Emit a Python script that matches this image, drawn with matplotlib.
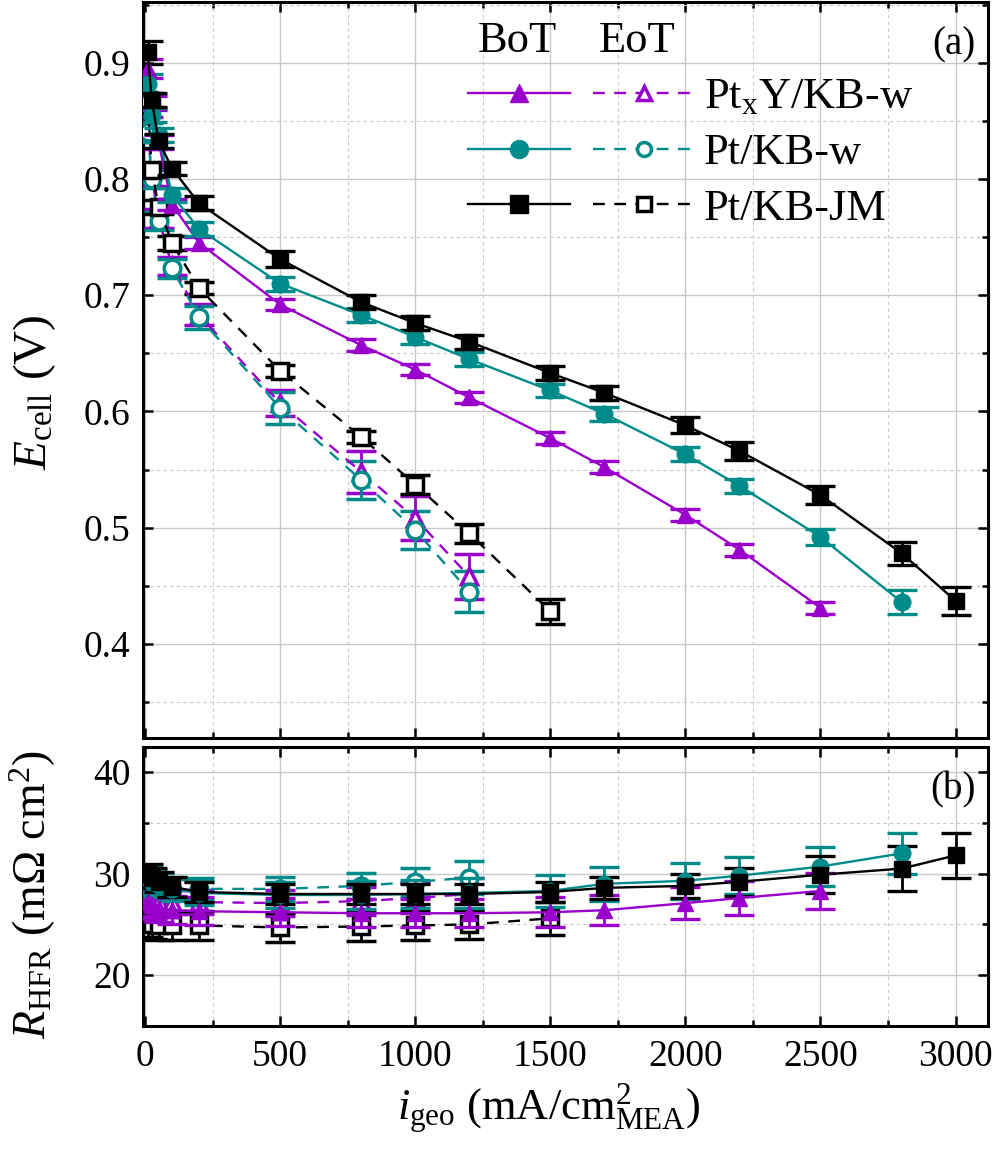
"""
Polarization curves and HFR, BoT vs EoT
"""

import matplotlib
matplotlib.use('Agg')
import matplotlib.pyplot as plt
from matplotlib.ticker import MultipleLocator
from matplotlib.legend_handler import HandlerTuple

plt.rcParams['font.family'] = ['Liberation Serif', 'DejaVu Serif']
plt.rcParams['mathtext.fontset'] = 'custom'
plt.rcParams['mathtext.rm'] = 'Liberation Serif'
plt.rcParams['mathtext.it'] = 'Liberation Serif:italic'

# ---------------------------------------------------------------- data
i_ptxy_bot = [10, 25, 50, 100, 200, 500, 800, 1000, 1200, 1500, 1700, 2000, 2200, 2500]
i_pt_bot = [10, 25, 50, 100, 200, 500, 800, 1000, 1200, 1500, 1700, 2000, 2200, 2500, 2800]
i_jm_bot = [10, 25, 50, 100, 200, 500, 800, 1000, 1200, 1500, 1700, 2000, 2200, 2500, 2800, 3000]
i_ptxy_eot = [10, 25, 50, 100, 200, 500, 800, 1000, 1200]
i_pt_eot = [10, 25, 50, 100, 200, 500, 800, 1000, 1200]
i_jm_eot = [10, 25, 50, 100, 200, 500, 800, 1000, 1200, 1500]

# cell voltage (V)
E_ptxy_bot = [0.895, 0.865, 0.832, 0.778, 0.745, 0.692, 0.657, 0.636, 0.612, 0.577, 0.552, 0.511, 0.481, 0.431]
E_ptxy_bot_err = [0.008, 0.006, 0.006, 0.005, 0.005, 0.005, 0.005, 0.005, 0.005, 0.005, 0.005, 0.005, 0.005, 0.005]
E_pt_bot = [0.882, 0.855, 0.838, 0.786, 0.757, 0.710, 0.683, 0.664, 0.645, 0.618, 0.598, 0.563, 0.536, 0.492, 0.436]
E_pt_bot_err = [0.008, 0.006, 0.006, 0.006, 0.006, 0.006, 0.006, 0.006, 0.006, 0.006, 0.006, 0.006, 0.006, 0.007, 0.010]
E_jm_bot = [0.909, 0.868, 0.833, 0.809, 0.779, 0.731, 0.694, 0.676, 0.660, 0.633, 0.616, 0.588, 0.566, 0.528, 0.478, 0.437]
E_jm_bot_err = [0.010, 0.006, 0.006, 0.006, 0.006, 0.007, 0.006, 0.006, 0.006, 0.006, 0.006, 0.007, 0.008, 0.008, 0.010, 0.012]

E_ptxy_eot = [0.845, 0.802, 0.766, 0.725, 0.683, 0.607, 0.548, 0.508, 0.458]
E_ptxy_eot_err = [0.008, 0.008, 0.008, 0.008, 0.009, 0.011, 0.018, 0.019, 0.019]
E_pt_eot = [0.840, 0.800, 0.764, 0.723, 0.681, 0.603, 0.541, 0.498, 0.445]
E_pt_eot_err = [0.008, 0.008, 0.008, 0.008, 0.010, 0.014, 0.016, 0.016, 0.018]
E_jm_eot = [0.868, 0.808, 0.776, 0.745, 0.706, 0.635, 0.578, 0.537, 0.495, 0.428]
E_jm_eot_err = [0.006, 0.006, 0.006, 0.006, 0.005, 0.005, 0.005, 0.008, 0.008, 0.011]

# HFR (mOhm cm2)
R_ptxy_bot = [27.2, 26.9, 26.6, 26.4, 26.3, 26.2, 26.1, 26.1, 26.1, 26.2, 26.4, 27.1, 27.6, 28.3]
R_ptxy_bot_err = [1.4, 1.4, 1.4, 1.4, 1.4, 1.4, 1.4, 1.4, 1.4, 1.5, 1.5, 1.6, 1.7, 1.8]
R_pt_bot = [29.6, 29.2, 28.9, 28.5, 28.1, 27.9, 27.9, 28.0, 28.1, 28.3, 29.0, 29.3, 29.8, 30.7, 32.0]
R_pt_bot_err = [1.2, 1.2, 1.2, 1.2, 1.2, 1.3, 1.4, 1.4, 1.5, 1.6, 1.7, 1.8, 1.8, 1.9, 2.0]
R_jm_bot = [30.0, 29.6, 29.2, 28.7, 28.2, 28.0, 28.0, 28.0, 28.0, 28.2, 28.6, 28.8, 29.2, 29.9, 30.5, 31.8]
R_jm_bot_err = [1.0, 1.0, 1.0, 1.0, 1.0, 1.0, 1.0, 1.0, 1.0, 1.0, 1.1, 1.2, 1.4, 1.8, 2.2, 2.2]

R_ptxy_eot = [27.5, 27.4, 27.3, 27.2, 27.2, 27.1, 27.3, 27.6, 28.0]
R_ptxy_eot_err = [1.2, 1.2, 1.2, 1.2, 1.2, 1.3, 1.4, 1.5, 1.6]
R_pt_eot = [28.9, 28.8, 28.6, 28.5, 28.5, 28.5, 28.8, 29.2, 29.6]
R_pt_eot_err = [1.0, 1.0, 1.0, 1.0, 1.1, 1.2, 1.3, 1.4, 1.6]
R_jm_eot = [25.2, 25.0, 24.9, 24.9, 24.9, 24.7, 24.8, 24.9, 25.0, 25.6]
R_jm_eot_err = [1.4, 1.4, 1.4, 1.4, 1.4, 1.4, 1.4, 1.4, 1.4, 1.6]

labels = ['Pt$_\\mathrm{x}$Y/KB-w', 'Pt/KB-w', 'Pt/KB-JM']
colors = ['#9900CC', '#008B8B', 'black']
markers = ['^', 'o', 's']

fig = plt.figure(figsize=(9.99, 11.56), dpi=100)
ax1 = fig.add_axes([0.143, 0.3616, 0.846, 0.6364])
ax2 = fig.add_axes([0.143, 0.1125, 0.846, 0.2415], sharex=ax1)

bot_sets = [
    (i_ptxy_bot, E_ptxy_bot, E_ptxy_bot_err, R_ptxy_bot, R_ptxy_bot_err),
    (i_pt_bot, E_pt_bot, E_pt_bot_err, R_pt_bot, R_pt_bot_err),
    (i_jm_bot, E_jm_bot, E_jm_bot_err, R_jm_bot, R_jm_bot_err),
]
eot_sets = [
    (i_ptxy_eot, E_ptxy_eot, E_ptxy_eot_err, R_ptxy_eot, R_ptxy_eot_err),
    (i_pt_eot, E_pt_eot, E_pt_eot_err, R_pt_eot, R_pt_eot_err),
    (i_jm_eot, E_jm_eot, E_jm_eot_err, R_jm_eot, R_jm_eot_err),
]

eb = dict(capsize=11, capthick=2.4, elinewidth=2.0, markersize=12)
handles = []
for k in range(3):
    c, m = colors[k], markers[k]
    ib, Eb, Ebe, Rb, Rbe = bot_sets[k]
    ie, Ee, Eee, Re, Ree = eot_sets[k]
    # EoT (open markers, dashed)
    for ax, y, ye in ((ax1, Ee, Eee), (ax2, Re, Ree)):
        ax.errorbar(ie, y, yerr=ye, color=c, marker=m, mfc='white', mec=c,
                    mew=2.5, ls=(0, (5, 4)), lw=1.7, zorder=3, **eb)
    # BoT (filled markers, solid)
    for ax, y, ye in ((ax1, Eb, Ebe), (ax2, Rb, Rbe)):
        ax.errorbar(ib, y, yerr=ye, color=c, marker=m, mfc=c, mec=c,
                    ls='-', lw=1.7, zorder=4, **eb)
    hb, = ax1.plot([], [], color=c, marker=m, mfc=c, mec=c, ls='-', lw=1.7,
                   markersize=13)
    he, = ax1.plot([], [], color=c, marker=m, mfc='white', mec=c, mew=2.5,
                   ls=(0, (5, 4)), lw=1.7, markersize=10)
    handles.append((hb, he))

# ---------------------------------------------------------------- axes style
for ax in (ax1, ax2):
    ax.set_xlim(-8, 3120)
    ax.xaxis.set_major_locator(MultipleLocator(500))
    ax.xaxis.set_minor_locator(MultipleLocator(250))
    ax.tick_params(which='both', direction='in', top=True, right=True,
                   width=1.8, labelsize=27)
    ax.tick_params(which='major', length=7)
    ax.tick_params(which='minor', length=4)
    ax.tick_params(axis='y', pad=9)
    ax.grid(True, which='major', color='#c8c8c8', lw=1.0)
    ax.grid(True, which='minor', color='#c8c8c8', lw=0.8, ls=(0, (3, 3)))
    ax.set_axisbelow(True)
    for s in ax.spines.values():
        s.set_linewidth(2.2)

ax1.set_ylim(0.319, 0.952)
ax1.yaxis.set_major_locator(MultipleLocator(0.1))
ax1.yaxis.set_minor_locator(MultipleLocator(0.05))
ax1.tick_params(labelbottom=False)
ax1.set_ylabel('$E_\\mathrm{cell}$ (V)', fontsize=34)
ax1.yaxis.set_label_coords(-0.1, 0.47)

ax2.set_ylim(15, 42.5)
ax2.yaxis.set_major_locator(MultipleLocator(10))
ax2.yaxis.set_minor_locator(MultipleLocator(5))
ax2.set_ylabel('$R_\\mathrm{HFR}$ (m$\\Omega$ cm$^2$)', fontsize=33)
ax2.yaxis.set_label_coords(-0.1, 0.47)
ax2.set_xlabel('$i_\\mathrm{geo}$ (mA/cm$^2_\\mathrm{MEA}$)', fontsize=32)
ax2.xaxis.set_label_coords(0.48, -0.2)
ax2.tick_params(axis='x', pad=10)

ax1.text(0.985, 0.942, '(a)', transform=ax1.transAxes, fontsize=28,
         ha='right', va='center')
ax2.text(0.985, 0.846, '(b)', transform=ax2.transAxes, fontsize=28,
         ha='right', va='center')

# legend: BoT / EoT columns
ax1.text(0.443, 0.947, 'BoT', transform=ax1.transAxes, fontsize=32,
         ha='center', va='center')
ax1.text(0.585, 0.947, 'EoT', transform=ax1.transAxes, fontsize=32,
         ha='center', va='center')
ax1.legend(handles, labels, handler_map={tuple: HandlerTuple(ndivide=None, pad=0.5)},
           loc='upper left', bbox_to_anchor=(0.385, 0.898), frameon=False,
           fontsize=32, handlelength=5.1, handletextpad=0.2, labelspacing=0.35,
           borderpad=0, borderaxespad=0)

plt.savefig('out.png', dpi=100)
